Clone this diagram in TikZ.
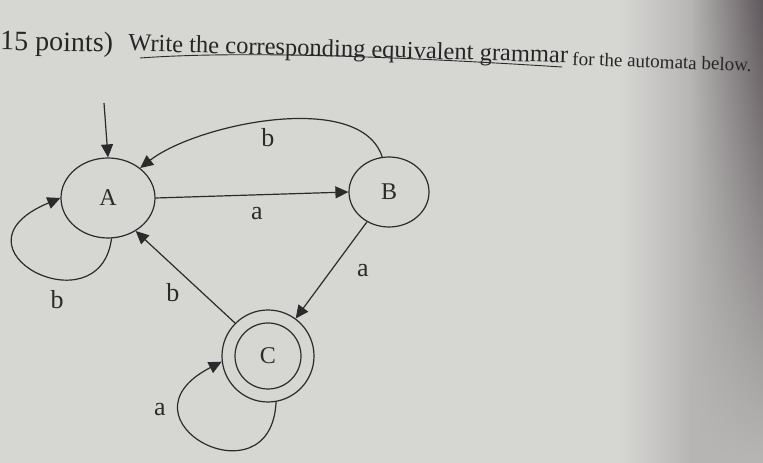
\documentclass[tikz,border=0pt]{standalone}
\usepackage{fontspec}
\setmainfont{Liberation Serif}
\usetikzlibrary{arrows.meta,shapes.geometric,fadings}
\definecolor{paper}{HTML}{D6D6D3}
\definecolor{shadow}{HTML}{5E575B}
\definecolor{ink}{HTML}{2B2B2B}
\tikzset{
    state-node/.style = {draw=ink, ellipse, line width=1.2pt, text=ink, font=\fontsize{24}{28}\selectfont},
    final-node/.style = {draw=ink, circle, line width=1.2pt, minimum size=92pt},
    final-inner/.style = {draw=ink, circle, line width=1.2pt, minimum size=66pt, text=ink, font=\fontsize{24}{28}\selectfont},
    trans-edge/.style = {draw=ink, line width=1.2pt, -{Triangle[length=13pt,width=12pt]}},
    edge-label/.style = {text=ink, font=\fontsize{26}{30}\selectfont},
    head-text/.style = {text=black!85, anchor=base west, inner sep=0pt},
}

\begin{document}
\begin{tikzpicture}[x=1pt,y=1pt]
\fill[paper] (0,0) rectangle (763,463);
\fill[paper!75!shadow] (690,0) rectangle (763,463);
\shade[left color=paper, right color=paper!75!shadow] (620,0) rectangle (690,463);
\shade[left color=paper!75!shadow, right color=shadow, path fading=south] (690,0) rectangle (763,463);
\useasboundingbox (0,0) rectangle (763,463);

\node[head-text, rotate=-1, font=\fontsize{28}{32}\selectfont] (title-pts) at (0,413) {15 points)};
\node[head-text, rotate=-1.5, font=\fontsize{24.5}{30}\selectfont] (title) at (128,412) {Write the corresponding equivalent grammar};
\node[head-text, rotate=-2, font=\fontsize{19}{22}\selectfont] (title-end) at (572,398) {for the automata below.};
\draw[ink, line width=0.9pt] (140,405) .. controls (250,413) and (420,405) .. (562,396);

\node[state-node, minimum width=94pt, minimum height=80pt] (A) at (108,265) {A};
\node[state-node, minimum width=80pt, minimum height=70pt] (B) at (389,271) {B};
\node[final-node] (C) at (268,107) {};
\node[final-inner] (C-in) at (C) {C};
\coordinate (start) at (104,360);

\draw[trans-edge] (start) -- (A.north);
\draw[trans-edge] (A.east) -- node[edge-label, below=8pt, xshift=5pt] (lab-ab) {a} (B.west);
\draw[trans-edge] (B.101) to[out=108, in=38, looseness=0.75] node[edge-label, below=4pt, xshift=-6pt] (lab-ba) {b} (A.43);
\draw[trans-edge] (B) -- node[edge-label, right=22pt] (lab-bc) {a} (C);
\draw[trans-edge] (C.135) -- node[edge-label, below left=2pt] (lab-ca) {b} (A.-50);
\draw[trans-edge] (A.-85) .. controls +(-12,-92) and +(-120,-50) .. (A.180);
\draw[trans-edge] (C.-80) .. controls +(-5,-104) and +(-112,-58) .. (C.187);
\node[edge-label] (lab-aa) at (57,163) {b};
\node[edge-label] (lab-cc) at (160,53) {a};
\end{tikzpicture}
\end{document}
